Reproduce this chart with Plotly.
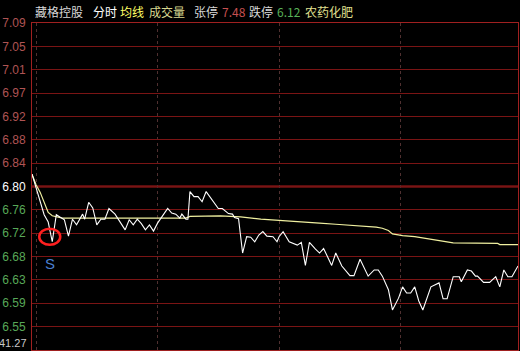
import plotly.graph_objects as go

# ---- data (minute index within trading day, price) ----
price_min = [0, 2, 4, 6, 8, 10, 12, 14, 16, 18, 20, 22, 25, 26, 28, 30, 32, 34, 36, 38,
             41, 46, 48, 50, 52, 54, 56, 58, 60, 62, 67, 69, 71, 73, 74, 76, 77, 78, 80, 82,
             84, 86, 89, 92, 94, 97, 99, 100, 102, 104, 106, 108, 110, 112, 114, 116, 119, 121, 122, 124,
             127, 131, 133, 135, 137, 139, 140, 142, 144, 148, 150, 153, 157, 159, 162, 166, 169, 171, 173, 176,
             178, 181, 183, 185, 187, 189, 191, 193, 197, 201, 203, 205, 208, 211, 212, 215, 217, 219, 220, 223,
             226, 229, 231, 233, 235, 237, 240]
price_val = [6.822, 6.799, 6.773, 6.750, 6.737, 6.702, 6.750, 6.746, 6.741, 6.712, 6.742, 6.732, 6.751, 6.742, 6.772, 6.762, 6.732, 6.742, 6.742, 6.761,
             6.751, 6.723, 6.741, 6.732, 6.742, 6.734, 6.723, 6.732, 6.721, 6.735, 6.761, 6.753, 6.751, 6.744, 6.751, 6.742, 6.742, 6.791, 6.782, 6.782,
             6.773, 6.791, 6.777, 6.761, 6.761, 6.752, 6.751, 6.745, 6.743, 6.682, 6.711, 6.710, 6.702, 6.714, 6.720, 6.712, 6.711, 6.702, 6.711, 6.720,
             6.702, 6.696, 6.701, 6.660, 6.701, 6.692, 6.689, 6.682, 6.690, 6.660, 6.682, 6.659, 6.642, 6.642, 6.671, 6.641, 6.652, 6.652, 6.641, 6.617,
             6.581, 6.602, 6.622, 6.611, 6.611, 6.622, 6.597, 6.581, 6.622, 6.629, 6.601, 6.601, 6.640, 6.640, 6.631, 6.652, 6.650, 6.641, 6.641, 6.630,
             6.630, 6.640, 6.622, 6.652, 6.640, 6.640, 6.659]

avg_min = [0, 2, 4, 6, 8, 10, 15, 43, 76, 78, 86, 93, 103, 113, 122, 132, 142, 150, 160, 170,
           173, 176, 178, 183, 189, 197, 203, 208, 230, 231, 240]
avg_val = [6.822, 6.803, 6.790, 6.771, 6.754, 6.748, 6.744, 6.744, 6.744, 6.747, 6.748, 6.748, 6.746, 6.742, 6.740, 6.738, 6.735, 6.733, 6.731, 6.728,
           6.726, 6.722, 6.716, 6.713, 6.711, 6.706, 6.702, 6.700, 6.699, 6.697, 6.697]

prev_close = 6.80
step = 0.29 / 7
tick_labels_up = ["6.84", "6.88", "6.92", "6.97", "7.01", "7.05", "7.09"]
tick_labels_down = ["6.76", "6.72", "6.68", "6.63", "6.59", "6.55"]
bottom_label = "41.27"

signal_idx = 5
signal_text = "S"

title_parts = [("藏格控股", "#d8d8d8"), ("分时", "#ffffff"), ("均线", "#ffff66"), ("成交量", "#d8d890"),
               ("张停", "#d8d8d8"), ("7.48", "#c85050"), ("跌停", "#d8d8d8"), ("6.12", "#58b058"),
               ("农药化肥", "#e0e090")]
title_px = [33, 91, 118, 147, 192, 220, 247, 275, 303]

# ---- figure ----
W, H = 520, 351
L, R, T, B = 32, 2, 23, 1
pw = W - L - R

fig = go.Figure()
fig.add_trace(go.Scatter(x=avg_min, y=avg_val, mode="lines",
                         line=dict(color="#f0f0a0", width=1.2), hoverinfo="skip"))
fig.add_trace(go.Scatter(x=price_min, y=price_val, mode="lines",
                         line=dict(color="#ffffff", width=1.1), hoverinfo="skip"))

tickvals, ticktext = [], []
for k, lab in enumerate(tick_labels_up, start=1):
    tickvals.append(prev_close + k * step)
    ticktext.append(f'<span style="color:#b05454">{lab}</span>')
tickvals.append(prev_close)
ticktext.append('<span style="color:#ffffff">6.80</span>')
for k, lab in enumerate(tick_labels_down, start=1):
    tickvals.append(prev_close - k * step)
    ticktext.append(f'<span style="color:#58a858">{lab}</span>')

ymin, ymax = prev_close - 7 * step, prev_close + 7 * step

fig.update_layout(
    width=W, height=H, margin=dict(l=L, r=R, t=T, b=B),
    paper_bgcolor="#000000", plot_bgcolor="#000000",
    showlegend=False,
    xaxis=dict(range=[0, 240], showticklabels=False, ticks="", tick0=2, dtick=60,
               showgrid=True, gridcolor="#503030", griddash="dot", gridwidth=1,
               zeroline=False, showline=True, linecolor="#a02020", linewidth=1, mirror=True),
    yaxis=dict(range=[ymin, ymax], tickmode="array", tickvals=tickvals, ticktext=ticktext,
               showgrid=True, gridcolor="#7a1414", gridwidth=1, zeroline=False,
               showline=True, linecolor="#a02020", linewidth=1, mirror=True,
               ticks="", ticklabelstandoff=3,
               tickfont=dict(family="Liberation Sans, Arial", size=12)),
)

# previous close line (thicker)
fig.add_shape(type="line", xref="paper", yref="y", x0=0, x1=1, y0=prev_close, y1=prev_close,
              line=dict(color="#b01c1c", width=2), layer="below")

# signal circle and label
fig.add_shape(type="circle", xref="x", yref="y", xsizemode="pixel", ysizemode="pixel",
              xanchor=price_min[signal_idx], yanchor=price_val[signal_idx],
              x0=-13, x1=8, y0=-3, y1=13, line=dict(color="#ff2020", width=2.5))
fig.add_annotation(x=price_min[signal_idx], y=price_val[signal_idx], text=signal_text,
                   showarrow=False, xshift=-2, yshift=-22,
                   font=dict(family="Liberation Sans, Arial", size=15, color="#4a7fd0"))

# volume label at the bottom edge (kept fully visible)
fig.add_annotation(xref="paper", yref="paper", x=0, y=0, xanchor="right", yanchor="bottom",
                   xshift=-3, yshift=-1, showarrow=False, text=bottom_label,
                   font=dict(family="Liberation Sans, Arial", size=11, color="#c8c8c8"))

# title segments
for (txt, col), px in zip(title_parts, title_px):
    fig.add_annotation(xref="paper", yref="paper", x=(px - L) / pw, y=1, yshift=12,
                       xanchor="left", yanchor="middle", showarrow=False, text=txt,
                       font=dict(family="Noto Sans CJK SC", size=12, color=col))

fig.write_html("out.html")
